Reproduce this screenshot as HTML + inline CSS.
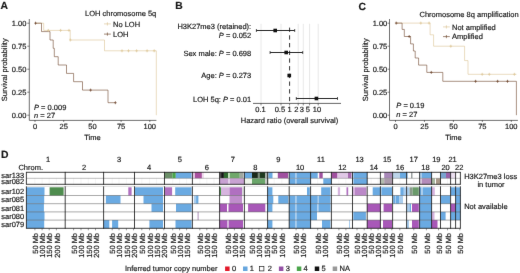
<!DOCTYPE html>
<html><head><meta charset="utf-8"><style>
html,body{margin:0;padding:0;background:#fff;}
svg{display:block;}
#w{width:520px;height:273px;overflow:hidden;}
text{font-family:"Liberation Sans", Arial, sans-serif;fill:#1a1a1a;text-rendering:geometricPrecision;stroke:#1a1a1a;stroke-width:0.18px;}
</style></head><body>
<div id="w"><svg width="520" height="273" viewBox="0 0 520 273">
<defs><filter id="bl" x="0" y="0" width="520" height="273" filterUnits="userSpaceOnUse" color-interpolation-filters="sRGB"><feConvolveMatrix order="3" kernelMatrix="0.00276 0.04704 0.00276 0.04704 0.80077 0.04704 0.00276 0.04704 0.00276" edgeMode="duplicate" preserveAlpha="true"/></filter></defs>
<g filter="url(#bl)">
<rect width="520" height="273" fill="#fff"/>
<text x="0.4" y="9.1" text-anchor="start" font-size="10.3" font-weight="bold" >A</text>
<line x1="29.3" y1="19" x2="29.3" y2="120.3" stroke="#333" stroke-width="0.7" />
<line x1="29.3" y1="120.4" x2="156.4" y2="120.4" stroke="#333" stroke-width="0.7" />
<line x1="27.3" y1="23.2" x2="29.3" y2="23.2" stroke="#333" stroke-width="0.6" />
<text x="26.4" y="25.8" text-anchor="end" font-size="7.5" font-weight="normal" >1.00</text>
<line x1="27.3" y1="46.2" x2="29.3" y2="46.2" stroke="#333" stroke-width="0.6" />
<text x="26.4" y="48.8" text-anchor="end" font-size="7.5" font-weight="normal" >0.75</text>
<line x1="27.3" y1="69.2" x2="29.3" y2="69.2" stroke="#333" stroke-width="0.6" />
<text x="26.4" y="71.8" text-anchor="end" font-size="7.5" font-weight="normal" >0.50</text>
<line x1="27.3" y1="92.2" x2="29.3" y2="92.2" stroke="#333" stroke-width="0.6" />
<text x="26.4" y="94.8" text-anchor="end" font-size="7.5" font-weight="normal" >0.25</text>
<line x1="27.3" y1="115.2" x2="29.3" y2="115.2" stroke="#333" stroke-width="0.6" />
<text x="26.4" y="117.8" text-anchor="end" font-size="7.5" font-weight="normal" >0.00</text>
<line x1="35.0" y1="120" x2="35.0" y2="122" stroke="#333" stroke-width="0.6" />
<text x="35.0" y="129.2" text-anchor="middle" font-size="7.5" font-weight="normal" >0</text>
<line x1="63.7" y1="120" x2="63.7" y2="122" stroke="#333" stroke-width="0.6" />
<text x="63.7" y="129.2" text-anchor="middle" font-size="7.5" font-weight="normal" >25</text>
<line x1="92.4" y1="120" x2="92.4" y2="122" stroke="#333" stroke-width="0.6" />
<text x="92.4" y="129.2" text-anchor="middle" font-size="7.5" font-weight="normal" >50</text>
<line x1="121.1" y1="120" x2="121.1" y2="122" stroke="#333" stroke-width="0.6" />
<text x="121.1" y="129.2" text-anchor="middle" font-size="7.5" font-weight="normal" >75</text>
<line x1="149.8" y1="120" x2="149.8" y2="122" stroke="#333" stroke-width="0.6" />
<text x="149.8" y="129.2" text-anchor="middle" font-size="7.5" font-weight="normal" >100</text>
<text x="92.4" y="140.3" text-anchor="middle" font-size="7.5" font-weight="normal" >Time</text>
<text transform="translate(7.3,69.8) rotate(-90)" text-anchor="middle" font-size="7.5">Survival probability</text>
<path d="M35,23.2 H43.7 V30.4 H70.2 V40 H104.5 V50.8 H156.3 V115.2" fill="none" stroke="#dcc596" stroke-width="0.6"/>
<path d="M35,23.2 H41.5 V31.6 H50 V40 H53.2 V48.3 H54.3 V56.7 H58.2 V65 H66.5 V73.4 H73.6 V81.7 H82.5 V90.1 H108 V102.7 H115.4" fill="none" stroke="#70482f" stroke-width="0.6"/>
<line x1="48.3" y1="28.9" x2="48.3" y2="31.9" stroke="#dcc596" stroke-width="0.7" />
<line x1="47.0" y1="30.4" x2="49.6" y2="30.4" stroke="#dcc596" stroke-width="0.7" />
<line x1="60.6" y1="28.9" x2="60.6" y2="31.9" stroke="#dcc596" stroke-width="0.7" />
<line x1="59.3" y1="30.4" x2="61.9" y2="30.4" stroke="#dcc596" stroke-width="0.7" />
<line x1="69" y1="28.9" x2="69" y2="31.9" stroke="#dcc596" stroke-width="0.7" />
<line x1="67.7" y1="30.4" x2="70.3" y2="30.4" stroke="#dcc596" stroke-width="0.7" />
<line x1="70.3" y1="38.5" x2="70.3" y2="41.5" stroke="#dcc596" stroke-width="0.7" />
<line x1="69.0" y1="40" x2="71.6" y2="40" stroke="#dcc596" stroke-width="0.7" />
<line x1="122" y1="49.3" x2="122" y2="52.3" stroke="#dcc596" stroke-width="0.7" />
<line x1="120.7" y1="50.8" x2="123.3" y2="50.8" stroke="#dcc596" stroke-width="0.7" />
<line x1="128.5" y1="49.3" x2="128.5" y2="52.3" stroke="#dcc596" stroke-width="0.7" />
<line x1="127.2" y1="50.8" x2="129.8" y2="50.8" stroke="#dcc596" stroke-width="0.7" />
<line x1="136.6" y1="49.3" x2="136.6" y2="52.3" stroke="#dcc596" stroke-width="0.7" />
<line x1="135.3" y1="50.8" x2="137.9" y2="50.8" stroke="#dcc596" stroke-width="0.7" />
<line x1="147.1" y1="49.3" x2="147.1" y2="52.3" stroke="#dcc596" stroke-width="0.7" />
<line x1="145.8" y1="50.8" x2="148.4" y2="50.8" stroke="#dcc596" stroke-width="0.7" />
<line x1="154.2" y1="49.3" x2="154.2" y2="52.3" stroke="#dcc596" stroke-width="0.7" />
<line x1="152.9" y1="50.8" x2="155.5" y2="50.8" stroke="#dcc596" stroke-width="0.7" />
<line x1="35.5" y1="21.7" x2="35.5" y2="24.7" stroke="#70482f" stroke-width="0.7" />
<line x1="34.2" y1="23.2" x2="36.8" y2="23.2" stroke="#70482f" stroke-width="0.7" />
<line x1="90.6" y1="88.6" x2="90.6" y2="91.6" stroke="#70482f" stroke-width="0.7" />
<line x1="89.3" y1="90.1" x2="91.9" y2="90.1" stroke="#70482f" stroke-width="0.7" />
<line x1="115.4" y1="101.2" x2="115.4" y2="104.2" stroke="#70482f" stroke-width="0.7" />
<line x1="114.1" y1="102.7" x2="116.7" y2="102.7" stroke="#70482f" stroke-width="0.7" />
<text x="85.0" y="16.1" text-anchor="start" font-size="7.5" font-weight="normal" >LOH chromosome 5q</text>
<line x1="104.0" y1="23.9" x2="110.8" y2="23.9" stroke="#dcc596" stroke-width="0.65" />
<line x1="107.4" y1="22.3" x2="107.4" y2="25.5" stroke="#dcc596" stroke-width="0.65" />
<text x="113.0" y="26.5" text-anchor="start" font-size="7.5" font-weight="normal" >No LOH</text>
<line x1="104.0" y1="34.1" x2="110.8" y2="34.1" stroke="#70482f" stroke-width="0.65" />
<line x1="107.4" y1="32.5" x2="107.4" y2="35.7" stroke="#70482f" stroke-width="0.65" />
<text x="113.0" y="36.7" text-anchor="start" font-size="7.5" font-weight="normal" >LOH</text>
<text x="34.0" y="109.6" text-anchor="start" font-size="7.5" font-weight="normal" ><tspan font-style="italic">P</tspan> = 0.009</text>
<text x="34.0" y="118.0" text-anchor="start" font-size="7.5" font-weight="normal" ><tspan font-style="italic">n</tspan> = 27</text>
<text x="358.4" y="9.9" text-anchor="start" font-size="10.3" font-weight="bold" >C</text>
<line x1="389.5" y1="19" x2="389.5" y2="120.3" stroke="#333" stroke-width="0.7" />
<line x1="389.5" y1="120.4" x2="517.9" y2="120.4" stroke="#333" stroke-width="0.7" />
<line x1="387.5" y1="23.2" x2="389.5" y2="23.2" stroke="#333" stroke-width="0.6" />
<text x="387.3" y="25.8" text-anchor="end" font-size="7.5" font-weight="normal" >1.00</text>
<line x1="387.5" y1="46.2" x2="389.5" y2="46.2" stroke="#333" stroke-width="0.6" />
<text x="387.3" y="48.8" text-anchor="end" font-size="7.5" font-weight="normal" >0.75</text>
<line x1="387.5" y1="69.2" x2="389.5" y2="69.2" stroke="#333" stroke-width="0.6" />
<text x="387.3" y="71.8" text-anchor="end" font-size="7.5" font-weight="normal" >0.50</text>
<line x1="387.5" y1="92.2" x2="389.5" y2="92.2" stroke="#333" stroke-width="0.6" />
<text x="387.3" y="94.8" text-anchor="end" font-size="7.5" font-weight="normal" >0.25</text>
<line x1="387.5" y1="115.2" x2="389.5" y2="115.2" stroke="#333" stroke-width="0.6" />
<text x="387.3" y="117.8" text-anchor="end" font-size="7.5" font-weight="normal" >0.00</text>
<line x1="395.5" y1="120" x2="395.5" y2="122" stroke="#333" stroke-width="0.6" />
<text x="395.5" y="129.2" text-anchor="middle" font-size="7.5" font-weight="normal" >0</text>
<line x1="424.45" y1="120" x2="424.45" y2="122" stroke="#333" stroke-width="0.6" />
<text x="424.45" y="129.2" text-anchor="middle" font-size="7.5" font-weight="normal" >25</text>
<line x1="453.4" y1="120" x2="453.4" y2="122" stroke="#333" stroke-width="0.6" />
<text x="453.4" y="129.2" text-anchor="middle" font-size="7.5" font-weight="normal" >50</text>
<line x1="482.35" y1="120" x2="482.35" y2="122" stroke="#333" stroke-width="0.6" />
<text x="482.35" y="129.2" text-anchor="middle" font-size="7.5" font-weight="normal" >75</text>
<line x1="511.3" y1="120" x2="511.3" y2="122" stroke="#333" stroke-width="0.6" />
<text x="511.3" y="129.2" text-anchor="middle" font-size="7.5" font-weight="normal" >100</text>
<text x="453.4" y="140.3" text-anchor="middle" font-size="7.5" font-weight="normal" >Time</text>
<text transform="translate(368.2,69.8) rotate(-90)" text-anchor="middle" font-size="7.5">Survival probability</text>
<path d="M395.7,23.1 H430.1 V34.8 H433.6 V46.2 H464.6 V60.6 H468 V74.3 H516.4" fill="none" stroke="#dcc596" stroke-width="0.6"/>
<path d="M395.7,23.1 H402.1 V29.4 H404.3 V36.5 H410.6 V43.9 H413.4 V51 H415.2 V58 H418.6 V65.1 H426.8 V72.4 H442.8 V81.3 H516.4 V115.2" fill="none" stroke="#70482f" stroke-width="0.6"/>
<line x1="420.8" y1="21.6" x2="420.8" y2="24.6" stroke="#dcc596" stroke-width="0.7" />
<line x1="419.5" y1="23.1" x2="422.1" y2="23.1" stroke="#dcc596" stroke-width="0.7" />
<line x1="429.1" y1="21.6" x2="429.1" y2="24.6" stroke="#dcc596" stroke-width="0.7" />
<line x1="427.8" y1="23.1" x2="430.4" y2="23.1" stroke="#dcc596" stroke-width="0.7" />
<line x1="450.8" y1="44.7" x2="450.8" y2="47.7" stroke="#dcc596" stroke-width="0.7" />
<line x1="449.5" y1="46.2" x2="452.1" y2="46.2" stroke="#dcc596" stroke-width="0.7" />
<line x1="482.2" y1="72.8" x2="482.2" y2="75.8" stroke="#dcc596" stroke-width="0.7" />
<line x1="480.9" y1="74.3" x2="483.5" y2="74.3" stroke="#dcc596" stroke-width="0.7" />
<line x1="489.3" y1="72.8" x2="489.3" y2="75.8" stroke="#dcc596" stroke-width="0.7" />
<line x1="488.0" y1="74.3" x2="490.6" y2="74.3" stroke="#dcc596" stroke-width="0.7" />
<line x1="514.4" y1="72.8" x2="514.4" y2="75.8" stroke="#dcc596" stroke-width="0.7" />
<line x1="513.1" y1="74.3" x2="515.7" y2="74.3" stroke="#dcc596" stroke-width="0.7" />
<line x1="396.2" y1="21.6" x2="396.2" y2="24.6" stroke="#70482f" stroke-width="0.7" />
<line x1="394.9" y1="23.1" x2="397.5" y2="23.1" stroke="#70482f" stroke-width="0.7" />
<line x1="409.2" y1="35.0" x2="409.2" y2="38.0" stroke="#70482f" stroke-width="0.7" />
<line x1="407.9" y1="36.5" x2="410.5" y2="36.5" stroke="#70482f" stroke-width="0.7" />
<line x1="431.3" y1="70.9" x2="431.3" y2="73.9" stroke="#70482f" stroke-width="0.7" />
<line x1="430.0" y1="72.4" x2="432.6" y2="72.4" stroke="#70482f" stroke-width="0.7" />
<line x1="475.6" y1="79.8" x2="475.6" y2="82.8" stroke="#70482f" stroke-width="0.7" />
<line x1="474.3" y1="81.3" x2="476.9" y2="81.3" stroke="#70482f" stroke-width="0.7" />
<line x1="497.6" y1="79.8" x2="497.6" y2="82.8" stroke="#70482f" stroke-width="0.7" />
<line x1="496.3" y1="81.3" x2="498.9" y2="81.3" stroke="#70482f" stroke-width="0.7" />
<line x1="507.5" y1="79.8" x2="507.5" y2="82.8" stroke="#70482f" stroke-width="0.7" />
<line x1="506.2" y1="81.3" x2="508.8" y2="81.3" stroke="#70482f" stroke-width="0.7" />
<text x="419.5" y="17.4" text-anchor="start" font-size="7.5" font-weight="normal" >Chromosome 8q amplification</text>
<line x1="443.0" y1="26.9" x2="449.8" y2="26.9" stroke="#dcc596" stroke-width="0.65" />
<line x1="446.4" y1="25.3" x2="446.4" y2="28.5" stroke="#dcc596" stroke-width="0.65" />
<text x="452.0" y="29.5" text-anchor="start" font-size="7.5" font-weight="normal" >Not amplified</text>
<line x1="443.0" y1="36.6" x2="449.8" y2="36.6" stroke="#70482f" stroke-width="0.65" />
<line x1="446.4" y1="35.0" x2="446.4" y2="38.2" stroke="#70482f" stroke-width="0.65" />
<text x="452.0" y="39.2" text-anchor="start" font-size="7.5" font-weight="normal" >Amplified</text>
<text x="396.3" y="108.1" text-anchor="start" font-size="7.5" font-weight="normal" ><tspan font-style="italic">P</tspan> = 0.19</text>
<text x="396.3" y="116.5" text-anchor="start" font-size="7.5" font-weight="normal" ><tspan font-style="italic">n</tspan> = 27</text>
<text x="175.3" y="9.2" text-anchor="start" font-size="10.3" font-weight="bold" >B</text>
<line x1="261.0" y1="23.8" x2="261.0" y2="103.3" stroke="#e2e2e2" stroke-width="0.8" />
<line x1="280.99" y1="23.8" x2="280.99" y2="103.3" stroke="#e2e2e2" stroke-width="0.8" />
<line x1="298.21" y1="23.8" x2="298.21" y2="103.3" stroke="#e2e2e2" stroke-width="0.8" />
<line x1="303.25" y1="23.8" x2="303.25" y2="103.3" stroke="#e2e2e2" stroke-width="0.8" />
<line x1="309.59" y1="23.8" x2="309.59" y2="103.3" stroke="#e2e2e2" stroke-width="0.8" />
<line x1="318.2" y1="23.8" x2="318.2" y2="103.3" stroke="#e2e2e2" stroke-width="0.8" />
<line x1="289.6" y1="27.6" x2="289.6" y2="103.3" stroke="#000" stroke-width="0.8" stroke-dasharray="4.3,3.4"/>
<line x1="256.4" y1="30.5" x2="294.7" y2="30.5" stroke="#111" stroke-width="0.9" />
<line x1="256.4" y1="29.0" x2="256.4" y2="32.0" stroke="#111" stroke-width="0.7" />
<line x1="294.7" y1="29.0" x2="294.7" y2="32.0" stroke="#111" stroke-width="0.7" />
<rect x="273.40" y="28.70" width="3.60" height="3.60" fill="#111" />
<line x1="270.1" y1="52.5" x2="302.7" y2="52.5" stroke="#111" stroke-width="0.9" />
<line x1="270.1" y1="51.0" x2="270.1" y2="54.0" stroke="#111" stroke-width="0.7" />
<line x1="302.7" y1="51.0" x2="302.7" y2="54.0" stroke="#111" stroke-width="0.7" />
<rect x="284.40" y="50.70" width="3.60" height="3.60" fill="#111" />
<line x1="288.3" y1="75.5" x2="290.3" y2="75.5" stroke="#111" stroke-width="0.9" />
<line x1="288.3" y1="74.0" x2="288.3" y2="77.0" stroke="#111" stroke-width="0.7" />
<line x1="290.3" y1="74.0" x2="290.3" y2="77.0" stroke="#111" stroke-width="0.7" />
<rect x="287.50" y="73.70" width="3.60" height="3.60" fill="#111" />
<line x1="296.3" y1="98.5" x2="337.5" y2="98.5" stroke="#111" stroke-width="0.9" />
<line x1="296.3" y1="97.0" x2="296.3" y2="100.0" stroke="#111" stroke-width="0.7" />
<line x1="337.5" y1="97.0" x2="337.5" y2="100.0" stroke="#111" stroke-width="0.7" />
<rect x="314.60" y="96.70" width="3.60" height="3.60" fill="#111" />
<line x1="253" y1="103.4" x2="341" y2="103.4" stroke="#333" stroke-width="0.75" />
<line x1="261.0" y1="103.4" x2="261.0" y2="105.4" stroke="#333" stroke-width="0.6" />
<text x="260.5" y="112.1" text-anchor="middle" font-size="7.5" font-weight="normal" >0.1</text>
<line x1="280.99" y1="103.4" x2="280.99" y2="105.4" stroke="#333" stroke-width="0.6" />
<text x="279.9" y="112.1" text-anchor="middle" font-size="7.5" font-weight="normal" >0.5</text>
<line x1="289.6" y1="103.4" x2="289.6" y2="105.4" stroke="#333" stroke-width="0.6" />
<text x="289.5" y="112.1" text-anchor="middle" font-size="7.5" font-weight="normal" >1</text>
<line x1="298.21" y1="103.4" x2="298.21" y2="105.4" stroke="#333" stroke-width="0.6" />
<text x="296.3" y="112.1" text-anchor="middle" font-size="7.5" font-weight="normal" >2</text>
<line x1="303.25" y1="103.4" x2="303.25" y2="105.4" stroke="#333" stroke-width="0.6" />
<text x="301.9" y="112.1" text-anchor="middle" font-size="7.5" font-weight="normal" >3</text>
<line x1="309.59" y1="103.4" x2="309.59" y2="105.4" stroke="#333" stroke-width="0.6" />
<text x="307.8" y="112.1" text-anchor="middle" font-size="7.5" font-weight="normal" >5</text>
<line x1="318.2" y1="103.4" x2="318.2" y2="105.4" stroke="#333" stroke-width="0.6" />
<text x="317.0" y="112.1" text-anchor="middle" font-size="7.5" font-weight="normal" >10</text>
<text x="289.5" y="122.6" text-anchor="middle" font-size="7.5" font-weight="normal" >Hazard ratio (overall survival)</text>
<text x="251.2" y="28.8" text-anchor="end" font-size="7.5" font-weight="normal" >H3K27me3 (retained):</text>
<text x="251.2" y="37.7" text-anchor="end" font-size="7.5" font-weight="normal" ><tspan font-style="italic">P</tspan> = 0.052</text>
<text x="251.2" y="55.6" text-anchor="end" font-size="7.5" font-weight="normal" >Sex male: <tspan font-style="italic">P</tspan> = 0.698</text>
<text x="251.2" y="78.2" text-anchor="end" font-size="7.5" font-weight="normal" >Age: <tspan font-style="italic">P</tspan> = 0.273</text>
<text x="251.2" y="101.6" text-anchor="end" font-size="7.5" font-weight="normal" >LOH 5q: <tspan font-style="italic">P</tspan> = 0.01</text>
<!--D-->
<text x="0.9" y="157.5" text-anchor="start" font-size="10.4" font-weight="bold" >D</text>
<rect x="26.40" y="172.30" width="434.00" height="12.00" fill="#ffffff" />
<rect x="26.40" y="187.30" width="434.00" height="41.00" fill="#ffffff" />
<line x1="34.9" y1="178.3" x2="34.9" y2="184.3" stroke="#e8e8e8" stroke-width="0.45" />
<line x1="42.1" y1="178.3" x2="42.1" y2="184.3" stroke="#e8e8e8" stroke-width="0.45" />
<line x1="49.2" y1="178.3" x2="49.2" y2="184.3" stroke="#e8e8e8" stroke-width="0.45" />
<line x1="56.4" y1="178.3" x2="56.4" y2="184.3" stroke="#e8e8e8" stroke-width="0.45" />
<line x1="73.6" y1="178.3" x2="73.6" y2="184.3" stroke="#e8e8e8" stroke-width="0.45" />
<line x1="81.0" y1="178.3" x2="81.0" y2="184.3" stroke="#e8e8e8" stroke-width="0.45" />
<line x1="88.3" y1="178.3" x2="88.3" y2="184.3" stroke="#e8e8e8" stroke-width="0.45" />
<line x1="95.5" y1="178.3" x2="95.5" y2="184.3" stroke="#e8e8e8" stroke-width="0.45" />
<line x1="112.2" y1="178.3" x2="112.2" y2="184.3" stroke="#e8e8e8" stroke-width="0.45" />
<line x1="119.0" y1="178.3" x2="119.0" y2="184.3" stroke="#e8e8e8" stroke-width="0.45" />
<line x1="126.4" y1="178.3" x2="126.4" y2="184.3" stroke="#e8e8e8" stroke-width="0.45" />
<line x1="133.5" y1="178.3" x2="133.5" y2="184.3" stroke="#e8e8e8" stroke-width="0.45" />
<line x1="141.8" y1="178.3" x2="141.8" y2="184.3" stroke="#e8e8e8" stroke-width="0.45" />
<line x1="149.5" y1="178.3" x2="149.5" y2="184.3" stroke="#e8e8e8" stroke-width="0.45" />
<line x1="156.5" y1="178.3" x2="156.5" y2="184.3" stroke="#e8e8e8" stroke-width="0.45" />
<line x1="163.8" y1="178.3" x2="163.8" y2="184.3" stroke="#e8e8e8" stroke-width="0.45" />
<line x1="172.7" y1="178.3" x2="172.7" y2="184.3" stroke="#e8e8e8" stroke-width="0.45" />
<line x1="179.6" y1="178.3" x2="179.6" y2="184.3" stroke="#e8e8e8" stroke-width="0.45" />
<line x1="186.6" y1="178.3" x2="186.6" y2="184.3" stroke="#e8e8e8" stroke-width="0.45" />
<line x1="199.8" y1="178.3" x2="199.8" y2="184.3" stroke="#e8e8e8" stroke-width="0.45" />
<line x1="206.8" y1="178.3" x2="206.8" y2="184.3" stroke="#e8e8e8" stroke-width="0.45" />
<line x1="214.0" y1="178.3" x2="214.0" y2="184.3" stroke="#e8e8e8" stroke-width="0.45" />
<line x1="227.4" y1="178.3" x2="227.4" y2="184.3" stroke="#e8e8e8" stroke-width="0.45" />
<line x1="234.4" y1="178.3" x2="234.4" y2="184.3" stroke="#e8e8e8" stroke-width="0.45" />
<line x1="241.8" y1="178.3" x2="241.8" y2="184.3" stroke="#e8e8e8" stroke-width="0.45" />
<line x1="252.0" y1="178.3" x2="252.0" y2="184.3" stroke="#e8e8e8" stroke-width="0.45" />
<line x1="258.9" y1="178.3" x2="258.9" y2="184.3" stroke="#e8e8e8" stroke-width="0.45" />
<line x1="266.6" y1="178.3" x2="266.6" y2="184.3" stroke="#e8e8e8" stroke-width="0.45" />
<line x1="274.2" y1="178.3" x2="274.2" y2="184.3" stroke="#e8e8e8" stroke-width="0.45" />
<line x1="281.9" y1="178.3" x2="281.9" y2="184.3" stroke="#e8e8e8" stroke-width="0.45" />
<line x1="296.1" y1="178.3" x2="296.1" y2="184.3" stroke="#e8e8e8" stroke-width="0.45" />
<line x1="303.1" y1="178.3" x2="303.1" y2="184.3" stroke="#e8e8e8" stroke-width="0.45" />
<line x1="317.7" y1="178.3" x2="317.7" y2="184.3" stroke="#e8e8e8" stroke-width="0.45" />
<line x1="324.9" y1="178.3" x2="324.9" y2="184.3" stroke="#e8e8e8" stroke-width="0.45" />
<line x1="338.9" y1="178.3" x2="338.9" y2="184.3" stroke="#e8e8e8" stroke-width="0.45" />
<line x1="345.9" y1="178.3" x2="345.9" y2="184.3" stroke="#e8e8e8" stroke-width="0.45" />
<line x1="357.0" y1="178.3" x2="357.0" y2="184.3" stroke="#e8e8e8" stroke-width="0.45" />
<line x1="364.2" y1="178.3" x2="364.2" y2="184.3" stroke="#e8e8e8" stroke-width="0.45" />
<line x1="371.1" y1="178.3" x2="371.1" y2="184.3" stroke="#e8e8e8" stroke-width="0.45" />
<line x1="378.1" y1="178.3" x2="378.1" y2="184.3" stroke="#e8e8e8" stroke-width="0.45" />
<line x1="385.1" y1="178.3" x2="385.1" y2="184.3" stroke="#e8e8e8" stroke-width="0.45" />
<line x1="391.8" y1="178.3" x2="391.8" y2="184.3" stroke="#e8e8e8" stroke-width="0.45" />
<line x1="399.8" y1="178.3" x2="399.8" y2="184.3" stroke="#e8e8e8" stroke-width="0.45" />
<line x1="413.8" y1="178.3" x2="413.8" y2="184.3" stroke="#e8e8e8" stroke-width="0.45" />
<line x1="426.4" y1="178.3" x2="426.4" y2="184.3" stroke="#e8e8e8" stroke-width="0.45" />
<line x1="438.5" y1="178.3" x2="438.5" y2="184.3" stroke="#e8e8e8" stroke-width="0.45" />
<line x1="447.5" y1="178.3" x2="447.5" y2="184.3" stroke="#e8e8e8" stroke-width="0.45" />
<line x1="459.8" y1="178.3" x2="459.8" y2="184.3" stroke="#e8e8e8" stroke-width="0.45" />
<rect x="164.50" y="172.30" width="7.80" height="6.00" fill="#6b8f68" />
<rect x="172.30" y="172.30" width="3.50" height="6.00" fill="#4aa54a" />
<rect x="175.80" y="172.30" width="15.40" height="6.00" fill="#6aaae2" />
<rect x="191.20" y="172.30" width="1.20" height="6.00" fill="#a9cdee" />
<rect x="192.40" y="172.30" width="2.60" height="6.00" fill="#e4c4e0" />
<rect x="195.00" y="172.30" width="6.90" height="6.00" fill="#a8509e" />
<rect x="201.90" y="172.30" width="2.10" height="6.00" fill="#f0dcee" />
<rect x="219.60" y="172.30" width="1.50" height="6.00" fill="#555555" />
<rect x="221.10" y="172.30" width="2.80" height="6.00" fill="#151515" />
<rect x="223.90" y="172.30" width="4.40" height="6.00" fill="#2f6a2f" />
<rect x="228.30" y="172.30" width="1.50" height="6.00" fill="#c8e8c0" />
<rect x="229.80" y="172.30" width="10.00" height="6.00" fill="#6fa86a" />
<rect x="239.80" y="172.30" width="3.70" height="6.00" fill="#a0a8a0" />
<rect x="244.40" y="172.30" width="7.60" height="6.00" fill="#6aaae2" />
<rect x="252.00" y="172.30" width="5.90" height="6.00" fill="#1a2a1a" />
<rect x="257.90" y="172.30" width="1.60" height="6.00" fill="#7a8a7a" />
<rect x="259.50" y="172.30" width="5.50" height="6.00" fill="#1f3a1f" />
<rect x="265.00" y="172.30" width="2.60" height="6.00" fill="#aab0aa" />
<rect x="268.30" y="172.30" width="4.20" height="6.00" fill="#6aaae2" />
<rect x="267.60" y="172.30" width="0.70" height="6.00" fill="#a0a8b0" />
<rect x="277.80" y="172.30" width="10.30" height="6.00" fill="#a050a0" />
<rect x="289.20" y="172.30" width="5.80" height="6.00" fill="#6aaae2" />
<rect x="295.00" y="172.30" width="1.50" height="6.00" fill="#a9cdee" />
<rect x="296.50" y="172.30" width="14.10" height="6.00" fill="#6aaae2" />
<rect x="310.60" y="172.30" width="7.10" height="6.00" fill="#6aaae2" />
<rect x="319.30" y="172.30" width="3.40" height="6.00" fill="#a050a0" />
<rect x="331.40" y="172.30" width="6.10" height="6.00" fill="#a050a0" />
<rect x="337.50" y="172.30" width="10.50" height="6.00" fill="#e0c8e6" />
<rect x="348.00" y="172.30" width="3.50" height="6.00" fill="#a86ab0" />
<rect x="352.50" y="172.30" width="1.00" height="6.00" fill="#a9cdee" />
<rect x="353.50" y="172.30" width="13.70" height="6.00" fill="#6aaae2" />
<rect x="384.20" y="172.30" width="8.40" height="6.00" fill="#a888b8" />
<rect x="392.60" y="172.30" width="7.40" height="6.00" fill="#bcd4ea" />
<rect x="400.00" y="172.30" width="6.60" height="6.00" fill="#6aaae2" />
<rect x="406.60" y="172.30" width="1.40" height="6.00" fill="#a9cdee" />
<rect x="411.00" y="172.30" width="1.50" height="6.00" fill="#9aa0a0" />
<rect x="419.60" y="172.30" width="2.40" height="6.00" fill="#a9cdee" />
<rect x="422.00" y="172.30" width="9.60" height="6.00" fill="#6aaae2" />
<rect x="440.50" y="172.30" width="5.50" height="6.00" fill="#7aa4d0" />
<rect x="446.00" y="172.30" width="4.60" height="6.00" fill="#9a60a8" />
<rect x="450.60" y="172.30" width="5.00" height="6.00" fill="#ece0f0" />
<rect x="219.60" y="178.30" width="8.90" height="6.00" fill="#c8a2d2" />
<rect x="228.50" y="178.30" width="1.50" height="6.00" fill="#e4d0ea" />
<rect x="230.00" y="178.30" width="14.40" height="6.00" fill="#c8a2d2" />
<rect x="244.40" y="178.30" width="7.60" height="6.00" fill="#eef5ea" />
<rect x="252.00" y="178.30" width="13.00" height="6.00" fill="#6aa56a" />
<rect x="265.00" y="178.30" width="2.60" height="6.00" fill="#c8ccc8" />
<rect x="267.60" y="178.30" width="0.70" height="6.00" fill="#a0b098" />
<rect x="289.20" y="178.30" width="5.80" height="6.00" fill="#6aaae2" />
<rect x="295.00" y="178.30" width="1.50" height="6.00" fill="#a9cdee" />
<rect x="296.50" y="178.30" width="14.10" height="6.00" fill="#6aaae2" />
<rect x="323.30" y="178.30" width="8.10" height="6.00" fill="#6aaae2" />
<rect x="352.50" y="178.30" width="1.50" height="6.00" fill="#a9cdee" />
<rect x="354.00" y="178.30" width="13.20" height="6.00" fill="#6aaae2" />
<rect x="380.40" y="178.30" width="3.80" height="6.00" fill="#b4bcae" />
<rect x="384.20" y="178.30" width="8.40" height="6.00" fill="#aa9aaa" />
<rect x="419.60" y="178.30" width="2.40" height="6.00" fill="#d8c8dc" />
<rect x="422.00" y="178.30" width="9.60" height="6.00" fill="#b48cba" />
<rect x="431.60" y="178.30" width="3.40" height="6.00" fill="#a8b8a0" />
<rect x="436.00" y="178.30" width="4.50" height="6.00" fill="#a89888" />
<rect x="26.40" y="187.30" width="18.10" height="8.20" fill="#6aaae2" />
<rect x="49.60" y="187.30" width="14.00" height="8.20" fill="#4f8d4f" />
<rect x="128.30" y="187.30" width="3.30" height="8.20" fill="#b070c0" />
<rect x="135.00" y="187.30" width="28.00" height="8.20" fill="#6aaae2" />
<rect x="165.00" y="187.30" width="7.10" height="8.20" fill="#b070c0" />
<rect x="175.20" y="187.30" width="16.40" height="8.20" fill="#6aaae2" />
<rect x="219.60" y="187.30" width="1.40" height="8.20" fill="#4aa54a" />
<rect x="221.00" y="187.30" width="8.50" height="8.20" fill="#d6b4de" />
<rect x="229.50" y="187.30" width="12.50" height="8.20" fill="#b070c0" />
<rect x="242.00" y="187.30" width="2.00" height="8.20" fill="#dddddd" />
<rect x="267.60" y="187.30" width="4.80" height="8.20" fill="#6aaae2" />
<rect x="307.00" y="187.30" width="2.80" height="8.20" fill="#6aaae2" />
<rect x="321.20" y="187.30" width="9.20" height="8.20" fill="#6aaae2" />
<rect x="337.80" y="187.30" width="2.30" height="8.20" fill="#d6b4de" />
<rect x="346.50" y="187.30" width="1.70" height="8.20" fill="#b070c0" />
<rect x="352.50" y="187.30" width="2.50" height="8.20" fill="#d6b4de" />
<rect x="355.00" y="187.30" width="11.40" height="8.20" fill="#bb88c8" />
<rect x="372.70" y="187.30" width="7.70" height="8.20" fill="#6aaae2" />
<rect x="380.40" y="187.30" width="1.10" height="8.20" fill="#a9cdee" />
<rect x="381.50" y="187.30" width="10.50" height="8.20" fill="#6aaae2" />
<rect x="400.40" y="187.30" width="3.40" height="8.20" fill="#6aaae2" />
<rect x="403.80" y="187.30" width="2.80" height="8.20" fill="#a9cdee" />
<rect x="406.60" y="187.30" width="3.00" height="8.20" fill="#a9cdee" />
<rect x="409.60" y="187.30" width="3.00" height="8.20" fill="#8a9a8a" />
<rect x="412.60" y="187.30" width="6.20" height="8.20" fill="#6a9a6a" />
<rect x="419.60" y="187.30" width="1.90" height="8.20" fill="#6aaae2" />
<rect x="421.50" y="187.30" width="1.50" height="8.20" fill="#a9cdee" />
<rect x="423.00" y="187.30" width="8.60" height="8.20" fill="#6aaae2" />
<rect x="431.60" y="187.30" width="3.20" height="8.20" fill="#d6b4de" />
<rect x="450.60" y="187.30" width="5.00" height="8.20" fill="#6aaae2" />
<rect x="455.60" y="187.30" width="4.80" height="8.20" fill="#6aaae2" />
<rect x="26.40" y="195.50" width="17.80" height="8.20" fill="#6aaae2" />
<rect x="105.90" y="195.50" width="14.60" height="8.20" fill="#6aaae2" />
<rect x="143.50" y="195.50" width="19.50" height="8.20" fill="#6aaae2" />
<rect x="193.90" y="195.50" width="2.20" height="8.20" fill="#a9cdee" />
<rect x="196.10" y="195.50" width="2.30" height="8.20" fill="#6aaae2" />
<rect x="229.50" y="195.50" width="12.60" height="8.20" fill="#c08ecc" />
<rect x="267.60" y="195.50" width="5.70" height="8.20" fill="#6aaae2" />
<rect x="278.30" y="195.50" width="10.10" height="8.20" fill="#6aaae2" />
<rect x="289.20" y="195.50" width="5.80" height="8.20" fill="#6aaae2" />
<rect x="295.00" y="195.50" width="1.50" height="8.20" fill="#a9cdee" />
<rect x="296.50" y="195.50" width="14.10" height="8.20" fill="#6aaae2" />
<rect x="310.60" y="195.50" width="7.20" height="8.20" fill="#6aaae2" />
<rect x="317.80" y="195.50" width="1.00" height="8.20" fill="#a9cdee" />
<rect x="318.80" y="195.50" width="11.70" height="8.20" fill="#6aaae2" />
<rect x="393.20" y="195.50" width="1.80" height="8.20" fill="#6aaae2" />
<rect x="395.00" y="195.50" width="1.00" height="8.20" fill="#a9cdee" />
<rect x="396.00" y="195.50" width="3.50" height="8.20" fill="#6aaae2" />
<rect x="399.50" y="195.50" width="3.50" height="8.20" fill="#a9cdee" />
<rect x="419.60" y="195.50" width="12.00" height="8.20" fill="#6aaae2" />
<rect x="440.50" y="195.50" width="9.50" height="8.20" fill="#6aaae2" />
<rect x="455.60" y="195.50" width="4.80" height="8.20" fill="#6aaae2" />
<rect x="26.40" y="203.70" width="17.50" height="8.20" fill="#6aaae2" />
<rect x="151.50" y="203.70" width="11.50" height="8.20" fill="#6aaae2" />
<rect x="176.00" y="203.70" width="15.60" height="8.20" fill="#6aaae2" />
<rect x="219.60" y="203.70" width="7.40" height="8.20" fill="#a858b8" />
<rect x="228.50" y="203.70" width="14.50" height="8.20" fill="#a858b8" />
<rect x="248.10" y="203.70" width="17.20" height="8.20" fill="#a858b8" />
<rect x="267.60" y="203.70" width="4.80" height="8.20" fill="#6aaae2" />
<rect x="289.20" y="203.70" width="5.80" height="8.20" fill="#6aaae2" />
<rect x="295.00" y="203.70" width="1.50" height="8.20" fill="#a9cdee" />
<rect x="296.50" y="203.70" width="14.10" height="8.20" fill="#6aaae2" />
<rect x="310.60" y="203.70" width="6.70" height="8.20" fill="#6aaae2" />
<rect x="317.30" y="203.70" width="1.20" height="8.20" fill="#a9cdee" />
<rect x="318.50" y="203.70" width="12.00" height="8.20" fill="#6aaae2" />
<rect x="367.20" y="203.70" width="13.20" height="8.20" fill="#a858b8" />
<rect x="383.60" y="203.70" width="8.40" height="8.20" fill="#a858b8" />
<rect x="406.60" y="203.70" width="2.90" height="8.20" fill="#a9cdee" />
<rect x="409.50" y="203.70" width="1.50" height="8.20" fill="#6aaae2" />
<rect x="412.00" y="203.70" width="6.80" height="8.20" fill="#a858b8" />
<rect x="419.60" y="203.70" width="12.00" height="8.20" fill="#6aaae2" />
<rect x="450.60" y="203.70" width="5.00" height="8.20" fill="#a858b8" />
<rect x="455.60" y="203.70" width="4.80" height="8.20" fill="#6aaae2" />
<rect x="26.40" y="211.90" width="18.10" height="8.20" fill="#6aaae2" />
<rect x="197.60" y="211.90" width="1.00" height="8.20" fill="#b090b8" />
<rect x="289.20" y="211.90" width="5.80" height="8.20" fill="#6aaae2" />
<rect x="295.00" y="211.90" width="1.50" height="8.20" fill="#a9cdee" />
<rect x="296.50" y="211.90" width="14.10" height="8.20" fill="#6aaae2" />
<rect x="310.60" y="211.90" width="6.40" height="8.20" fill="#6aaae2" />
<rect x="353.30" y="211.90" width="12.60" height="8.20" fill="#6aaae2" />
<rect x="419.60" y="211.90" width="12.00" height="8.20" fill="#6aaae2" />
<rect x="431.60" y="211.90" width="2.90" height="8.20" fill="#d6b4de" />
<rect x="440.50" y="211.90" width="5.10" height="8.20" fill="#6aaae2" />
<rect x="450.60" y="211.90" width="5.00" height="8.20" fill="#6aaae2" />
<rect x="455.60" y="211.90" width="4.80" height="8.20" fill="#6aaae2" />
<rect x="26.40" y="220.10" width="17.80" height="8.20" fill="#6aaae2" />
<rect x="103.60" y="220.10" width="5.70" height="8.20" fill="#6aaae2" />
<rect x="112.10" y="220.10" width="6.10" height="8.20" fill="#6aaae2" />
<rect x="149.40" y="220.10" width="13.60" height="8.20" fill="#6aaae2" />
<rect x="175.50" y="220.10" width="16.10" height="8.20" fill="#6aaae2" />
<rect x="219.60" y="220.10" width="7.80" height="8.20" fill="#a858b8" />
<rect x="227.40" y="220.10" width="1.60" height="8.20" fill="#d6b4de" />
<rect x="229.00" y="220.10" width="14.00" height="8.20" fill="#a858b8" />
<rect x="267.60" y="220.10" width="4.80" height="8.20" fill="#6aaae2" />
<rect x="289.20" y="220.10" width="5.80" height="8.20" fill="#6aaae2" />
<rect x="295.00" y="220.10" width="1.50" height="8.20" fill="#a9cdee" />
<rect x="296.50" y="220.10" width="14.10" height="8.20" fill="#6aaae2" />
<rect x="322.00" y="220.10" width="8.40" height="8.20" fill="#6aaae2" />
<rect x="349.00" y="220.10" width="1.00" height="8.20" fill="#a9cdee" />
<rect x="367.20" y="220.10" width="13.20" height="8.20" fill="#a858b8" />
<rect x="383.00" y="220.10" width="9.00" height="8.20" fill="#a858b8" />
<rect x="406.60" y="220.10" width="2.40" height="8.20" fill="#a9cdee" />
<rect x="412.00" y="220.10" width="6.80" height="8.20" fill="#a858b8" />
<rect x="419.60" y="220.10" width="12.00" height="8.20" fill="#6aaae2" />
<rect x="431.60" y="220.10" width="5.90" height="8.20" fill="#a858b8" />
<line x1="26.4" y1="178.3" x2="460.4" y2="178.3" stroke="#7a7a7a" stroke-width="0.5" />
<line x1="26.4" y1="195.5" x2="460.4" y2="195.5" stroke="#555555" stroke-width="0.5" />
<line x1="26.4" y1="203.7" x2="460.4" y2="203.7" stroke="#555555" stroke-width="0.5" />
<line x1="26.4" y1="211.9" x2="460.4" y2="211.9" stroke="#555555" stroke-width="0.5" />
<line x1="26.4" y1="220.1" x2="460.4" y2="220.1" stroke="#555555" stroke-width="0.5" />
<line x1="26.4" y1="186.4" x2="460.4" y2="186.4" stroke="#d4d4d4" stroke-width="0.7" />
<line x1="26.4" y1="172.3" x2="460.4" y2="172.3" stroke="#111" stroke-width="0.8" />
<line x1="26.4" y1="184.3" x2="460.4" y2="184.3" stroke="#111" stroke-width="0.8" />
<line x1="26.4" y1="228.3" x2="460.4" y2="228.3" stroke="#111" stroke-width="0.8" />
<line x1="26.4" y1="171.9" x2="26.4" y2="184.7" stroke="#111" stroke-width="0.8" />
<line x1="26.4" y1="186.3" x2="26.4" y2="228.7" stroke="#111" stroke-width="0.8" />
<line x1="65.2" y1="171.9" x2="65.2" y2="184.7" stroke="#111" stroke-width="0.8" />
<line x1="65.2" y1="186.3" x2="65.2" y2="228.7" stroke="#111" stroke-width="0.8" />
<line x1="103.6" y1="171.9" x2="103.6" y2="184.7" stroke="#111" stroke-width="0.8" />
<line x1="103.6" y1="186.3" x2="103.6" y2="228.7" stroke="#111" stroke-width="0.8" />
<line x1="134.5" y1="171.9" x2="134.5" y2="184.7" stroke="#111" stroke-width="0.8" />
<line x1="134.5" y1="186.3" x2="134.5" y2="228.7" stroke="#111" stroke-width="0.8" />
<line x1="164.5" y1="171.9" x2="164.5" y2="184.7" stroke="#111" stroke-width="0.8" />
<line x1="164.5" y1="186.3" x2="164.5" y2="228.7" stroke="#111" stroke-width="0.8" />
<line x1="192.4" y1="171.9" x2="192.4" y2="184.7" stroke="#111" stroke-width="0.8" />
<line x1="192.4" y1="186.3" x2="192.4" y2="228.7" stroke="#111" stroke-width="0.8" />
<line x1="219.6" y1="171.9" x2="219.6" y2="184.7" stroke="#111" stroke-width="0.8" />
<line x1="219.6" y1="186.3" x2="219.6" y2="228.7" stroke="#111" stroke-width="0.8" />
<line x1="244.4" y1="171.9" x2="244.4" y2="184.7" stroke="#111" stroke-width="0.8" />
<line x1="244.4" y1="186.3" x2="244.4" y2="228.7" stroke="#111" stroke-width="0.8" />
<line x1="267.6" y1="171.9" x2="267.6" y2="184.7" stroke="#111" stroke-width="0.8" />
<line x1="267.6" y1="186.3" x2="267.6" y2="228.7" stroke="#111" stroke-width="0.8" />
<line x1="289.2" y1="171.9" x2="289.2" y2="184.7" stroke="#111" stroke-width="0.8" />
<line x1="289.2" y1="186.3" x2="289.2" y2="228.7" stroke="#111" stroke-width="0.8" />
<line x1="310.6" y1="171.9" x2="310.6" y2="184.7" stroke="#111" stroke-width="0.8" />
<line x1="310.6" y1="186.3" x2="310.6" y2="228.7" stroke="#111" stroke-width="0.8" />
<line x1="331.4" y1="171.9" x2="331.4" y2="184.7" stroke="#111" stroke-width="0.8" />
<line x1="331.4" y1="186.3" x2="331.4" y2="228.7" stroke="#111" stroke-width="0.8" />
<line x1="352.5" y1="171.9" x2="352.5" y2="184.7" stroke="#111" stroke-width="0.8" />
<line x1="352.5" y1="186.3" x2="352.5" y2="228.7" stroke="#111" stroke-width="0.8" />
<line x1="367.2" y1="171.9" x2="367.2" y2="184.7" stroke="#111" stroke-width="0.8" />
<line x1="367.2" y1="186.3" x2="367.2" y2="228.7" stroke="#111" stroke-width="0.8" />
<line x1="380.4" y1="171.9" x2="380.4" y2="184.7" stroke="#111" stroke-width="0.8" />
<line x1="380.4" y1="186.3" x2="380.4" y2="228.7" stroke="#111" stroke-width="0.8" />
<line x1="392.6" y1="171.9" x2="392.6" y2="184.7" stroke="#111" stroke-width="0.8" />
<line x1="392.6" y1="186.3" x2="392.6" y2="228.7" stroke="#111" stroke-width="0.8" />
<line x1="406.6" y1="171.9" x2="406.6" y2="184.7" stroke="#111" stroke-width="0.8" />
<line x1="406.6" y1="186.3" x2="406.6" y2="228.7" stroke="#111" stroke-width="0.8" />
<line x1="419.6" y1="171.9" x2="419.6" y2="184.7" stroke="#111" stroke-width="0.8" />
<line x1="419.6" y1="186.3" x2="419.6" y2="228.7" stroke="#111" stroke-width="0.8" />
<line x1="431.6" y1="171.9" x2="431.6" y2="184.7" stroke="#111" stroke-width="0.8" />
<line x1="431.6" y1="186.3" x2="431.6" y2="228.7" stroke="#111" stroke-width="0.8" />
<line x1="440.5" y1="171.9" x2="440.5" y2="184.7" stroke="#111" stroke-width="0.8" />
<line x1="440.5" y1="186.3" x2="440.5" y2="228.7" stroke="#111" stroke-width="0.8" />
<line x1="450.6" y1="171.9" x2="450.6" y2="184.7" stroke="#111" stroke-width="0.8" />
<line x1="450.6" y1="186.3" x2="450.6" y2="228.7" stroke="#111" stroke-width="0.8" />
<line x1="455.6" y1="171.9" x2="455.6" y2="184.7" stroke="#111" stroke-width="0.8" />
<line x1="455.6" y1="186.3" x2="455.6" y2="228.7" stroke="#111" stroke-width="0.8" />
<line x1="460.4" y1="171.9" x2="460.4" y2="184.7" stroke="#111" stroke-width="0.8" />
<line x1="460.4" y1="186.3" x2="460.4" y2="228.7" stroke="#111" stroke-width="0.8" />
<text x="48.2" y="161.6" text-anchor="middle" font-size="7.5" font-weight="normal" >1</text>
<text x="84.2" y="169.7" text-anchor="middle" font-size="7.5" font-weight="normal" >2</text>
<text x="119.1" y="161.6" text-anchor="middle" font-size="7.5" font-weight="normal" >3</text>
<text x="149.0" y="169.7" text-anchor="middle" font-size="7.5" font-weight="normal" >4</text>
<text x="179.8" y="161.6" text-anchor="middle" font-size="7.5" font-weight="normal" >5</text>
<text x="206.9" y="169.7" text-anchor="middle" font-size="7.5" font-weight="normal" >6</text>
<text x="232.9" y="161.6" text-anchor="middle" font-size="7.5" font-weight="normal" >7</text>
<text x="255.4" y="169.7" text-anchor="middle" font-size="7.5" font-weight="normal" >8</text>
<text x="278.3" y="161.6" text-anchor="middle" font-size="7.5" font-weight="normal" >9</text>
<text x="300.1" y="169.7" text-anchor="middle" font-size="7.5" font-weight="normal" >10</text>
<text x="321.0" y="161.6" text-anchor="middle" font-size="7.5" font-weight="normal" >11</text>
<text x="342.3" y="169.7" text-anchor="middle" font-size="7.5" font-weight="normal" >12</text>
<text x="359.6" y="161.6" text-anchor="middle" font-size="7.5" font-weight="normal" >13</text>
<text x="373.8" y="169.7" text-anchor="middle" font-size="7.5" font-weight="normal" >14</text>
<text x="387.1" y="161.6" text-anchor="middle" font-size="7.5" font-weight="normal" >15</text>
<text x="399.9" y="169.7" text-anchor="middle" font-size="7.5" font-weight="normal" >16</text>
<text x="413.7" y="161.6" text-anchor="middle" font-size="7.5" font-weight="normal" >17</text>
<text x="425.5" y="169.7" text-anchor="middle" font-size="7.5" font-weight="normal" >18</text>
<text x="436.3" y="161.6" text-anchor="middle" font-size="7.5" font-weight="normal" >19</text>
<text x="445.6" y="169.7" text-anchor="middle" font-size="7.5" font-weight="normal" >20</text>
<text x="452.6" y="161.6" text-anchor="middle" font-size="7.5" font-weight="normal" >21</text>
<text x="459.2" y="169.7" text-anchor="middle" font-size="7.5" font-weight="normal" >22</text>
<text x="43.0" y="169.6" text-anchor="end" font-size="7.5" font-weight="normal" >Chrom.</text>
<text x="24.2" y="178.0" text-anchor="end" font-size="7.5" font-weight="normal" >sar133</text>
<text x="24.2" y="184.0" text-anchor="end" font-size="7.5" font-weight="normal" >sar082</text>
<text x="24.2" y="194.1" text-anchor="end" font-size="7.5" font-weight="normal" >sar102</text>
<text x="24.2" y="202.3" text-anchor="end" font-size="7.5" font-weight="normal" >sar085</text>
<text x="24.2" y="210.5" text-anchor="end" font-size="7.5" font-weight="normal" >sar081</text>
<text x="24.2" y="218.7" text-anchor="end" font-size="7.5" font-weight="normal" >sar080</text>
<text x="24.2" y="226.9" text-anchor="end" font-size="7.5" font-weight="normal" >sar079</text>
<line x1="34.9" y1="228.3" x2="34.9" y2="230.3" stroke="#333" stroke-width="0.5" />
<text transform="translate(38.10,233.0) rotate(-90)" text-anchor="end" font-size="7.45">50 Mb</text>
<line x1="42.1" y1="228.3" x2="42.1" y2="230.3" stroke="#333" stroke-width="0.5" />
<text transform="translate(45.30,233.0) rotate(-90)" text-anchor="end" font-size="7.45">100 Mb</text>
<line x1="49.2" y1="228.3" x2="49.2" y2="230.3" stroke="#333" stroke-width="0.5" />
<text transform="translate(52.40,233.0) rotate(-90)" text-anchor="end" font-size="7.45">150 Mb</text>
<line x1="56.4" y1="228.3" x2="56.4" y2="230.3" stroke="#333" stroke-width="0.5" />
<text transform="translate(59.60,233.0) rotate(-90)" text-anchor="end" font-size="7.45">200 Mb</text>
<line x1="73.6" y1="228.3" x2="73.6" y2="230.3" stroke="#333" stroke-width="0.5" />
<text transform="translate(76.80,233.0) rotate(-90)" text-anchor="end" font-size="7.45">50 Mb</text>
<line x1="81.0" y1="228.3" x2="81.0" y2="230.3" stroke="#333" stroke-width="0.5" />
<text transform="translate(84.20,233.0) rotate(-90)" text-anchor="end" font-size="7.45">100 Mb</text>
<line x1="88.3" y1="228.3" x2="88.3" y2="230.3" stroke="#333" stroke-width="0.5" />
<text transform="translate(91.50,233.0) rotate(-90)" text-anchor="end" font-size="7.45">150 Mb</text>
<line x1="95.5" y1="228.3" x2="95.5" y2="230.3" stroke="#333" stroke-width="0.5" />
<text transform="translate(98.70,233.0) rotate(-90)" text-anchor="end" font-size="7.45">200 Mb</text>
<line x1="112.2" y1="228.3" x2="112.2" y2="230.3" stroke="#333" stroke-width="0.5" />
<text transform="translate(115.40,233.0) rotate(-90)" text-anchor="end" font-size="7.45">50 Mb</text>
<line x1="119.0" y1="228.3" x2="119.0" y2="230.3" stroke="#333" stroke-width="0.5" />
<text transform="translate(122.20,233.0) rotate(-90)" text-anchor="end" font-size="7.45">100 Mb</text>
<line x1="126.4" y1="228.3" x2="126.4" y2="230.3" stroke="#333" stroke-width="0.5" />
<text transform="translate(129.60,233.0) rotate(-90)" text-anchor="end" font-size="7.45">150 Mb</text>
<line x1="133.5" y1="228.3" x2="133.5" y2="230.3" stroke="#333" stroke-width="0.5" />
<text transform="translate(136.70,233.0) rotate(-90)" text-anchor="end" font-size="7.45">200 Mb</text>
<line x1="141.8" y1="228.3" x2="141.8" y2="230.3" stroke="#333" stroke-width="0.5" />
<text transform="translate(145.00,233.0) rotate(-90)" text-anchor="end" font-size="7.45">50 Mb</text>
<line x1="149.5" y1="228.3" x2="149.5" y2="230.3" stroke="#333" stroke-width="0.5" />
<text transform="translate(152.70,233.0) rotate(-90)" text-anchor="end" font-size="7.45">100 Mb</text>
<line x1="156.5" y1="228.3" x2="156.5" y2="230.3" stroke="#333" stroke-width="0.5" />
<text transform="translate(159.70,233.0) rotate(-90)" text-anchor="end" font-size="7.45">150 Mb</text>
<line x1="163.8" y1="228.3" x2="163.8" y2="230.3" stroke="#333" stroke-width="0.5" />
<text transform="translate(167.00,233.0) rotate(-90)" text-anchor="end" font-size="7.45">200 Mb</text>
<line x1="172.7" y1="228.3" x2="172.7" y2="230.3" stroke="#333" stroke-width="0.5" />
<text transform="translate(175.90,233.0) rotate(-90)" text-anchor="end" font-size="7.45">50 Mb</text>
<line x1="179.6" y1="228.3" x2="179.6" y2="230.3" stroke="#333" stroke-width="0.5" />
<text transform="translate(182.80,233.0) rotate(-90)" text-anchor="end" font-size="7.45">100 Mb</text>
<line x1="186.6" y1="228.3" x2="186.6" y2="230.3" stroke="#333" stroke-width="0.5" />
<text transform="translate(189.80,233.0) rotate(-90)" text-anchor="end" font-size="7.45">150 Mb</text>
<line x1="199.8" y1="228.3" x2="199.8" y2="230.3" stroke="#333" stroke-width="0.5" />
<text transform="translate(203.00,233.0) rotate(-90)" text-anchor="end" font-size="7.45">50 Mb</text>
<line x1="206.8" y1="228.3" x2="206.8" y2="230.3" stroke="#333" stroke-width="0.5" />
<text transform="translate(210.00,233.0) rotate(-90)" text-anchor="end" font-size="7.45">100 Mb</text>
<line x1="214.0" y1="228.3" x2="214.0" y2="230.3" stroke="#333" stroke-width="0.5" />
<text transform="translate(217.20,233.0) rotate(-90)" text-anchor="end" font-size="7.45">150 Mb</text>
<line x1="227.4" y1="228.3" x2="227.4" y2="230.3" stroke="#333" stroke-width="0.5" />
<text transform="translate(230.60,233.0) rotate(-90)" text-anchor="end" font-size="7.45">50 Mb</text>
<line x1="234.4" y1="228.3" x2="234.4" y2="230.3" stroke="#333" stroke-width="0.5" />
<text transform="translate(237.60,233.0) rotate(-90)" text-anchor="end" font-size="7.45">100 Mb</text>
<line x1="241.8" y1="228.3" x2="241.8" y2="230.3" stroke="#333" stroke-width="0.5" />
<text transform="translate(245.00,233.0) rotate(-90)" text-anchor="end" font-size="7.45">150 Mb</text>
<line x1="252.0" y1="228.3" x2="252.0" y2="230.3" stroke="#333" stroke-width="0.5" />
<text transform="translate(255.20,233.0) rotate(-90)" text-anchor="end" font-size="7.45">50 Mb</text>
<line x1="258.9" y1="228.3" x2="258.9" y2="230.3" stroke="#333" stroke-width="0.5" />
<text transform="translate(262.10,233.0) rotate(-90)" text-anchor="end" font-size="7.45">100 Mb</text>
<line x1="266.6" y1="228.3" x2="266.6" y2="230.3" stroke="#333" stroke-width="0.5" />
<text transform="translate(269.80,233.0) rotate(-90)" text-anchor="end" font-size="7.45">150 Mb</text>
<line x1="274.2" y1="228.3" x2="274.2" y2="230.3" stroke="#333" stroke-width="0.5" />
<text transform="translate(277.40,233.0) rotate(-90)" text-anchor="end" font-size="7.45">50 Mb</text>
<line x1="281.9" y1="228.3" x2="281.9" y2="230.3" stroke="#333" stroke-width="0.5" />
<text transform="translate(285.10,233.0) rotate(-90)" text-anchor="end" font-size="7.45">100 Mb</text>
<line x1="296.1" y1="228.3" x2="296.1" y2="230.3" stroke="#333" stroke-width="0.5" />
<text transform="translate(299.30,233.0) rotate(-90)" text-anchor="end" font-size="7.45">50 Mb</text>
<line x1="303.1" y1="228.3" x2="303.1" y2="230.3" stroke="#333" stroke-width="0.5" />
<text transform="translate(306.30,233.0) rotate(-90)" text-anchor="end" font-size="7.45">100 Mb</text>
<line x1="317.7" y1="228.3" x2="317.7" y2="230.3" stroke="#333" stroke-width="0.5" />
<text transform="translate(320.90,233.0) rotate(-90)" text-anchor="end" font-size="7.45">50 Mb</text>
<line x1="324.9" y1="228.3" x2="324.9" y2="230.3" stroke="#333" stroke-width="0.5" />
<text transform="translate(328.10,233.0) rotate(-90)" text-anchor="end" font-size="7.45">100 Mb</text>
<line x1="338.9" y1="228.3" x2="338.9" y2="230.3" stroke="#333" stroke-width="0.5" />
<text transform="translate(342.10,233.0) rotate(-90)" text-anchor="end" font-size="7.45">50 Mb</text>
<line x1="345.9" y1="228.3" x2="345.9" y2="230.3" stroke="#333" stroke-width="0.5" />
<text transform="translate(349.10,233.0) rotate(-90)" text-anchor="end" font-size="7.45">100 Mb</text>
<line x1="357.0" y1="228.3" x2="357.0" y2="230.3" stroke="#333" stroke-width="0.5" />
<text transform="translate(360.20,233.0) rotate(-90)" text-anchor="end" font-size="7.45">50 Mb</text>
<line x1="364.2" y1="228.3" x2="364.2" y2="230.3" stroke="#333" stroke-width="0.5" />
<text transform="translate(367.40,233.0) rotate(-90)" text-anchor="end" font-size="7.45">100 Mb</text>
<line x1="371.1" y1="228.3" x2="371.1" y2="230.3" stroke="#333" stroke-width="0.5" />
<text transform="translate(374.30,233.0) rotate(-90)" text-anchor="end" font-size="7.45">50 Mb</text>
<line x1="378.1" y1="228.3" x2="378.1" y2="230.3" stroke="#333" stroke-width="0.5" />
<text transform="translate(381.30,233.0) rotate(-90)" text-anchor="end" font-size="7.45">100 Mb</text>
<line x1="385.1" y1="228.3" x2="385.1" y2="230.3" stroke="#333" stroke-width="0.5" />
<text transform="translate(388.30,233.0) rotate(-90)" text-anchor="end" font-size="7.45">50 Mb</text>
<line x1="391.8" y1="228.3" x2="391.8" y2="230.3" stroke="#333" stroke-width="0.5" />
<text transform="translate(395.00,233.0) rotate(-90)" text-anchor="end" font-size="7.45">100 Mb</text>
<line x1="399.8" y1="228.3" x2="399.8" y2="230.3" stroke="#333" stroke-width="0.5" />
<text transform="translate(403.00,233.0) rotate(-90)" text-anchor="end" font-size="7.45">50 Mb</text>
<line x1="413.8" y1="228.3" x2="413.8" y2="230.3" stroke="#333" stroke-width="0.5" />
<text transform="translate(417.00,233.0) rotate(-90)" text-anchor="end" font-size="7.45">50 Mb</text>
<line x1="426.4" y1="228.3" x2="426.4" y2="230.3" stroke="#333" stroke-width="0.5" />
<text transform="translate(429.60,233.0) rotate(-90)" text-anchor="end" font-size="7.45">50 Mb</text>
<line x1="438.5" y1="228.3" x2="438.5" y2="230.3" stroke="#333" stroke-width="0.5" />
<text transform="translate(441.70,233.0) rotate(-90)" text-anchor="end" font-size="7.45">50 Mb</text>
<line x1="447.5" y1="228.3" x2="447.5" y2="230.3" stroke="#333" stroke-width="0.5" />
<text transform="translate(450.70,233.0) rotate(-90)" text-anchor="end" font-size="7.45">50 Mb</text>
<line x1="459.8" y1="228.3" x2="459.8" y2="230.3" stroke="#333" stroke-width="0.5" />
<text transform="translate(463.00,233.0) rotate(-90)" text-anchor="end" font-size="7.45">50 Mb</text>
<text x="464.2" y="178.7" text-anchor="start" font-size="7.5" font-weight="normal" >H3K27me3 loss</text>
<text x="491.0" y="187.2" text-anchor="middle" font-size="7.5" font-weight="normal" >in tumor</text>
<text x="464.2" y="209.2" text-anchor="start" font-size="7.5" font-weight="normal" >Not available</text>
<text x="124.9" y="271.1" text-anchor="start" font-size="7.5" font-weight="normal" >Inferred tumor copy number</text>
<rect x="225.10" y="266.50" width="4.50" height="4.50" fill="#e3192a" />
<text x="231.9" y="271.1" text-anchor="start" font-size="7.5" font-weight="normal" >0</text>
<rect x="243.03" y="266.50" width="4.50" height="4.50" fill="#66a6de" />
<text x="249.83" y="271.1" text-anchor="start" font-size="7.5" font-weight="normal" >1</text>
<rect x="259.6" y="266.6" width="4.3" height="4.3" fill="#fff" stroke="#222" stroke-width="0.7"/>
<text x="267.76" y="271.1" text-anchor="start" font-size="7.5" font-weight="normal" >2</text>
<rect x="278.89" y="266.50" width="4.50" height="4.50" fill="#9450a5" />
<text x="285.69" y="271.1" text-anchor="start" font-size="7.5" font-weight="normal" >3</text>
<rect x="296.82" y="266.50" width="4.50" height="4.50" fill="#4aa54a" />
<text x="303.62" y="271.1" text-anchor="start" font-size="7.5" font-weight="normal" >4</text>
<rect x="314.75" y="266.50" width="4.50" height="4.50" fill="#111111" />
<text x="321.55" y="271.1" text-anchor="start" font-size="7.5" font-weight="normal" >5</text>
<rect x="332.68" y="266.50" width="4.50" height="4.50" fill="#999999" />
<text x="339.48" y="271.1" text-anchor="start" font-size="7.5" font-weight="normal" >NA</text>
</g>
</svg></div>
</body></html>
